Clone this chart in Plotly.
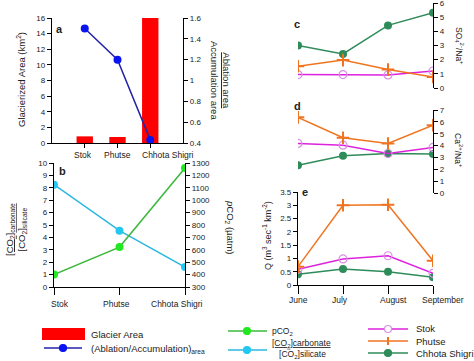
import plotly.graph_objects as go

# ---------------- data ----------------
sites = ["Stok", "Phutse", "Chhota Shigri"]
glacier_area = [0.85, 0.77, 16.0]
ablation_accum_ratio = [1.5, 1.2, 0.43]
pco2 = [400, 622, 1260]
co2_carb_sil_ratio = [8.25, 4.54, 1.61]

months = ["June", "July", "August", "September"]
so4_na_stok = [0.95, 0.95, 0.92, 1.2]
so4_na_phutse = [1.53, 1.97, 1.3, 0.78]
so4_na_chhota = [3.0, 2.4, 4.42, 5.32]
ca_na_stok = [4.18, 4.03, 3.33, 3.84]
ca_na_phutse = [6.38, 4.66, 4.18, 5.72]
ca_na_chhota = [2.34, 3.14, 3.33, 3.28]
q_stok = [0.59, 0.98, 1.1, 0.44]
q_phutse = [0.69, 3.0, 3.02, 0.91]
q_chhota = [0.4, 0.6, 0.5, 0.29]

# ---------------- styling ----------------
W, H = 474, 361
FONT = "Liberation Sans"
RED = "#ff0000"
NAVY = "#2323a8"
BLUE = "#0a14f0"
GREEN_L = "#3cb83c"
GREEN_M = "#22e822"
CYAN_L = "#2ab8e0"
CYAN_M = "#22c8f0"
MAG_L = "#dd22dd"
MAG_M = "#d990e6"
ORANGE = "#f07420"
SEA = "#2e8b5a"


def px(x):
    return x / W


def py(y):
    return 1 - y / H


fig = go.Figure()

# panel a
fig.add_trace(go.Bar(x=sites, y=glacier_area, marker_color=RED, width=0.5,
                     xaxis="x", yaxis="y", showlegend=False))
fig.add_trace(go.Scatter(x=sites, y=ablation_accum_ratio, mode="lines+markers",
                         line=dict(color=NAVY, width=1.5),
                         marker=dict(color=BLUE, size=8),
                         xaxis="x", yaxis="y2", showlegend=False))
# panel b
fig.add_trace(go.Scatter(x=sites, y=co2_carb_sil_ratio, mode="lines+markers",
                         line=dict(color=CYAN_L, width=1.5),
                         marker=dict(color=CYAN_M, size=8),
                         xaxis="x2", yaxis="y3", showlegend=False))
fig.add_trace(go.Scatter(x=sites, y=pco2, mode="lines+markers",
                         line=dict(color=GREEN_L, width=1.5),
                         marker=dict(color=GREEN_M, size=8),
                         xaxis="x2", yaxis="y4", showlegend=False))


def site_traces(xa, ya, stok, phutse, chhota):
    fig.add_trace(go.Scatter(x=months, y=chhota, mode="lines+markers",
                             line=dict(color=SEA, width=1.5),
                             marker=dict(color=SEA, size=8),
                             xaxis=xa, yaxis=ya, showlegend=False))
    fig.add_trace(go.Scatter(x=months, y=stok, mode="lines+markers",
                             line=dict(color=MAG_L, width=1.5),
                             marker=dict(symbol="circle-open", color=MAG_M, size=8,
                                         line=dict(width=1.2)),
                             xaxis=xa, yaxis=ya, showlegend=False))
    fig.add_trace(go.Scatter(x=months, y=phutse, mode="lines+markers",
                             line=dict(color=ORANGE, width=1.5),
                             marker=dict(symbol="cross-thin", size=9,
                                         line=dict(width=2, color=ORANGE)),
                             xaxis=xa, yaxis=ya, showlegend=False))


site_traces("x3", "y5", so4_na_stok, so4_na_phutse, so4_na_chhota)
site_traces("x4", "y6", ca_na_stok, ca_na_phutse, ca_na_chhota)
site_traces("x5", "y7", q_stok, q_phutse, q_chhota)

tickfont = dict(family=FONT, size=8, color="#222")
ax_common = dict(showgrid=False, zeroline=False, showline=True, linecolor="black",
                 linewidth=1.3, ticks="outside", ticklen=4, tickwidth=1.2,
                 tickcolor="black", tickfont=tickfont, automargin=False,
                 tickangle=0)

# domains
xa_dom = [px(52), px(183)]
ya_dom = [py(143), py(18)]
xb_dom = [px(54), px(185)]
yb_dom = [py(287), py(163)]
xr_dom = [px(298), px(433)]
yc_dom = [py(88), py(3)]
yd_dom = [py(193), py(110)]
ye_dom = [py(285), py(192)]

hidden_x = dict(type="category", range=[0, 3], visible=False, automargin=False,
                showgrid=False, zeroline=False)

fig.update_layout(
    template="none",
    width=W, height=H,
    margin=dict(l=0, r=0, t=0, b=0, pad=0),
    paper_bgcolor="white", plot_bgcolor="rgba(0,0,0,0)",
    font=dict(family=FONT, size=9, color="#222"),
    showlegend=False,
    xaxis=dict(ax_common, domain=xa_dom, anchor="y", type="category",
               range=[-1, 3], ticklen=4, showticklabels=False),
    yaxis=dict(ax_common, domain=ya_dom, anchor="x", range=[0, 16], dtick=2),
    yaxis2=dict(ax_common, domain=ya_dom, anchor="x", overlaying="y", side="right",
                range=[0.4, 1.6], dtick=0.2),
    xaxis2=dict(ax_common, domain=xb_dom, anchor="y3", type="category",
                range=[0, 2], ticklen=7, showticklabels=False),
    yaxis3=dict(ax_common, domain=yb_dom, anchor="x2", range=[0, 10], dtick=1),
    yaxis4=dict(ax_common, domain=yb_dom, anchor="x2", overlaying="y3", side="right",
                range=[300, 1300], dtick=100),
    xaxis3=dict(hidden_x, domain=xr_dom, anchor="y5"),
    yaxis5=dict(ax_common, domain=yc_dom, anchor="x3", side="right",
                range=[0, 6], dtick=1),
    xaxis4=dict(hidden_x, domain=xr_dom, anchor="y6"),
    yaxis6=dict(ax_common, domain=yd_dom, anchor="x4", side="right",
                range=[0, 7], dtick=1),
    xaxis5=dict(ax_common, domain=xr_dom, anchor="y7", type="category",
                range=[0, 3], ticklen=8, showticklabels=False),
    yaxis7=dict(ax_common, domain=ye_dom, anchor="x5", range=[0, 3.5], dtick=0.5),
)

ann = []


def text(x, y, t, size=9, angle=0, xanchor="center", bold=False, align="center"):
    if bold:
        t = "<b>" + t + "</b>"
    ann.append(dict(x=px(x), y=py(y), xref="paper", yref="paper", text=t,
                    showarrow=False, textangle=angle, xanchor=xanchor,
                    yanchor="middle", align=align,
                    font=dict(family=FONT, size=size, color="#222")))


def cat_label(xref, cat, y, xshift, size=8.5):
    # category tick label placed through the axis' own scale, offset as in the source
    ann.append(dict(x=cat, xref=xref, y=py(y), yref="paper", text=cat,
                    showarrow=False, xshift=xshift, xanchor="center",
                    yanchor="middle", font=dict(family=FONT, size=size, color="#222")))


# category labels (offset like the original figure)
for cat, sh in zip(sites, [-2, 0, 18]):
    cat_label("x", cat, 155, sh)
for cat, sh in zip(sites, [6, -3, -8]):
    cat_label("x2", cat, 304, sh)
for cat, sh in zip(months, [0, -3, 5, 10]):
    cat_label("x5", cat, 300, sh)

# panel letters
text(59, 29, "a", 11, bold=True)
text(62, 171, "b", 11, bold=True)
text(297, 24, "c", 11, bold=True)
text(297, 106, "d", 11, bold=True)
text(305, 192, "e", 11, bold=True)

# axis titles
text(21, 80, "Glacierized Area (km<sup>2</sup>)", 9.5, angle=-90)
text(221, 80, "<u>Ablation area</u><br>Accumulation area", 9.5, angle=90)
text(16, 229, "<u>[CO<sub>2</sub>]<sub>carbonate</sub></u><br>[CO<sub>2</sub>]<sub>silicate</sub>",
     9.5, angle=-90)
text(230, 227, "<i>p</i>CO<sub>2</sub> (µatm)", 9.5, angle=90)
text(460, 46, "SO<sub>4</sub><sup>2-</sup>/Na<sup>+</sup>", 8.5, angle=90)
text(459, 150, "Ca<sup>2+</sup>/Na<sup>+</sup>", 8.5, angle=90)
text(267, 236, "Q (m<sup>3</sup> sec<sup>-1</sup> km<sup>-2</sup>)", 9, angle=-90)

# legend texts
text(89, 334, "Glacier Area", 9.5, xanchor="left")
text(89, 349, "(Ablation/Accumulation)<sub>area</sub>", 9.5, xanchor="left")
text(270, 331, "pCO<sub>2</sub>", 8.5, xanchor="left")
text(270, 349, "<u>[CO<sub>2</sub>]carbonate</u><br> [CO<sub>2</sub>]silicate", 8.5,
     xanchor="left", align="center")
text(414, 328, "Stok", 9.5, xanchor="left")
text(414, 341, "Phutse", 9.5, xanchor="left")
text(414, 353, "Chhota Shigri", 9.5, xanchor="left")

fig.update_layout(annotations=ann)

# legend keys
shapes = []


def line_key(x0, x1, y, color):
    shapes.append(dict(type="line", xref="paper", yref="paper",
                       x0=px(x0), x1=px(x1), y0=py(y), y1=py(y),
                       line=dict(color=color, width=1.5)))


def circle_key(cx, cy, r, fill, outline):
    shapes.append(dict(type="circle", xref="paper", yref="paper",
                       x0=px(cx - r), x1=px(cx + r), y0=py(cy + r), y1=py(cy - r),
                       fillcolor=fill, line=dict(color=outline, width=1.2)))


shapes.append(dict(type="rect", xref="paper", yref="paper",
                   x0=px(42), x1=px(85), y0=py(340), y1=py(328),
                   fillcolor=RED, line=dict(width=0)))
line_key(44, 82, 348, NAVY)
circle_key(63, 348, 3.5, BLUE, BLUE)
line_key(228, 267, 331, GREEN_L)
circle_key(247, 331, 3.5, GREEN_M, GREEN_M)
line_key(228, 267, 350, CYAN_L)
circle_key(247, 350, 3.5, CYAN_M, CYAN_M)
line_key(368, 408, 329, MAG_L)
circle_key(388, 329, 3.5, "white", MAG_M)
line_key(368, 408, 341, ORANGE)
shapes.append(dict(type="line", xref="paper", yref="paper",
                   x0=px(388), x1=px(388), y0=py(337), y1=py(345),
                   line=dict(color=ORANGE, width=2)))
line_key(368, 408, 353, SEA)
circle_key(388, 353, 3.5, SEA, SEA)

fig.update_layout(shapes=shapes)

fig.write_html(
    "out.html",
    config={"displayModeBar": False},
    post_script="document.body.style.margin='0';document.body.style.overflow='hidden';",
)
